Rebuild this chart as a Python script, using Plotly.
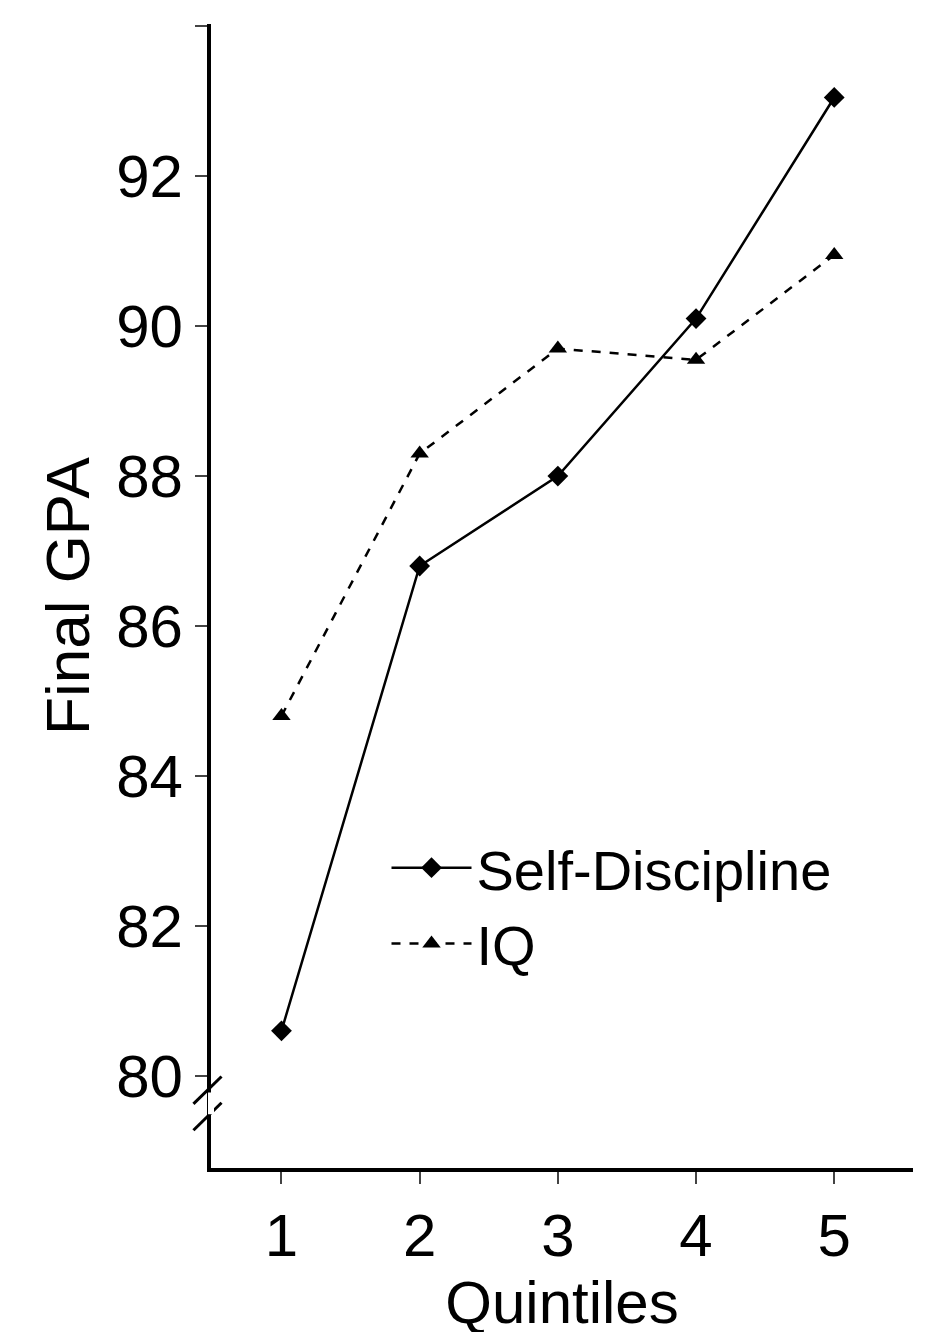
import plotly.graph_objects as go

quintiles = [1, 2, 3, 4, 5]
self_discipline = [80.6, 86.8, 88.0, 90.1, 93.05]
iq = [84.8, 88.3, 89.7, 89.55, 90.95]
y_ticks = [80, 82, 84, 86, 88, 90, 92, 94]

fig = go.Figure()
fig.add_trace(go.Scatter(x=quintiles, y=self_discipline, name="Self-Discipline",
    mode="lines+markers", line=dict(color="black", width=2.5),
    marker=dict(symbol="diamond", size=16, color="black")))
fig.add_trace(go.Scatter(x=quintiles, y=iq, name="IQ",
    mode="lines+markers", line=dict(color="black", width=2.5, dash="dash"),
    marker=dict(symbol="triangle-up", size=16, color="black")))

font = "Liberation Sans, Arial, sans-serif"
fig.update_layout(
    width=929, height=1332, plot_bgcolor="white", paper_bgcolor="white",
    margin=dict(l=203, r=24, t=16, b=172),
    font=dict(family=font, color="black", size=56),
    showlegend=True,
    legend=dict(x=0.25, y=0.30, xanchor="left", yanchor="top", bgcolor="rgba(0,0,0,0)",
                font=dict(size=56), tracegroupgap=0, itemwidth=80),
    xaxis=dict(range=[0.49, 5.57], tickvals=quintiles, ticks="outside", ticklen=12,
               tickwidth=2, showline=True, linewidth=4, linecolor="black",
               showgrid=False, zeroline=False,
               title=dict(text="Quintiles", font=dict(size=60), standoff=6),
               tickfont=dict(size=60)),
    yaxis=dict(range=[78.77, 94.03], tickvals=y_ticks, ticks="outside", ticklen=12,
               tickwidth=2, showline=True, linewidth=4, linecolor="black",
               showgrid=False, zeroline=False,
               title=dict(text="Final GPA", font=dict(size=62), standoff=8),
               tickfont=dict(size=60)),
)
# axis break marks
for yy in [0.045, 0.068]:
    fig.add_shape(type="line", xref="paper", yref="paper",
                  x0=-0.025, x1=0.015, y0=yy - 0.012, y1=yy + 0.012,
                  line=dict(color="black", width=3))
fig.add_shape(type="line", xref="paper", yref="paper", x0=0, x1=0, y0=0.047, y1=0.066,
              line=dict(color="white", width=6))
fig.write_html("out.html")
